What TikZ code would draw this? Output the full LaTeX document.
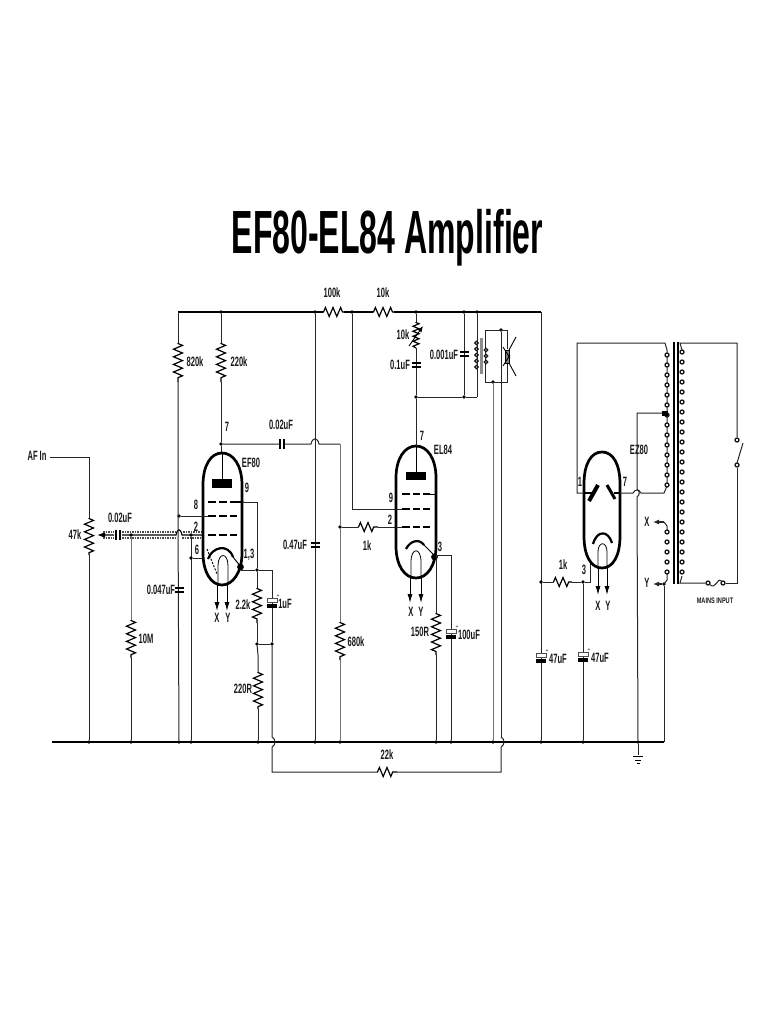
\documentclass[tikz,border=0pt]{standalone}
\usepackage{fontspec}
\setmainfont{Liberation Sans}
\usetikzlibrary{arrows.meta,decorations.pathmorphing,calc}
\tikzset{
  wire/.style={line width=1pt,black!85},
  thinwire/.style={line width=0.9pt,black!55},
  rail/.style={line width=2.5pt,black},
  res/.style={line width=1.2pt,black,decorate,decoration={zigzag,amplitude=4.5pt,segment length=7.6pt,pre length=0.5pt,post length=0.5pt}},
  glass/.style={line width=2.7pt,black},
  dot/.style={circle,fill=black,inner sep=0pt,minimum size=3.8pt},
  lab/.style={font=\bfseries\fontsize{13.5}{13.5}\selectfont,xscale=.56,inner sep=0pt,text=black!90},
  pin/.style={arrows={-Latex[length=9pt,width=5pt]},line width=1pt,black},
  coilring/.style={draw=black!90,fill=white,line width=1.3pt,circle,inner sep=0pt,minimum size=4pt},
  capv/.pic={\draw[line width=2.2pt] (-4.5,-2)--(4.5,-2) (-4.5,2)--(4.5,2);},
  caph/.pic={\draw[line width=2.2pt] (-2,-5)--(-2,5) (2,-5)--(2,5);},
  ecap/.pic={\draw[fill=white,line width=.8pt,draw=black!70] (-5,-4.5) rectangle (5,-1);
             \fill (-5,.5) rectangle (5,4.5);
             \node[font=\fontsize{5}{5}\selectfont,inner sep=0pt] at (6,-7) {+};},
}
\begin{document}
\begin{tikzpicture}[x=1pt,y=-1pt]
\useasboundingbox[fill=white] (0,0) rectangle (768,1024);

\node[font=\bfseries\fontsize{61}{61}\selectfont,xscale=.525,inner sep=0pt] (title) at (387.5,238) {EF80-EL84 Amplifier};

% ---------- rails
\node[dot] (tA) at (221,312) {};
\node[dot] (tB) at (315,312) {};
\node[dot] (tC) at (352,312) {};
\node[dot] (tD) at (416,312) {};
\node[dot] (tE) at (464,312) {};
\node[dot] (tF) at (477,312) {};
\coordinate (tL) at (178,312);
\coordinate (tR) at (541,312);
\coordinate (r1a) at (323,312); \coordinate (r1b) at (344,312);
\coordinate (r2a) at (373,312); \coordinate (r2b) at (394,312);
\draw[rail] (tL)--(r1a) (r1b)--(r2a) (r2b)--(tR);
\draw[res] (r1a)--(r1b);
\draw[res] (r2a)--(r2b);
\node[lab] (l100k) at (332,293) {100k};
\node[lab] (l10k) at (383,293) {10k};

\coordinate (bL) at (52,742);
\coordinate (bR) at (664,742);
\draw[rail] (bL)--(bR);
\foreach \n/\x in {b1/89,b2/131,b3/179,b4/191,b5/258,b6/315,b7/340,b8/436,b9/451,b10/493,b11/541,b12/583,b13/638}
  \node[dot] (\n) at (\x,742) {};

% ---------- input
\node[lab] (afin) at (37,456) {AF In};
\coordinate (af1) at (50,457);
\coordinate (af2) at (89,457);
\coordinate (p1a) at (89,518);
\coordinate (p1b) at (89,555);
\draw[wire] (af1)--(af2)--(p1a);
\draw[res] (p1a)--(p1b);
\draw[wire] (p1b)--(b1);
\node[lab] (l47k) at (75,535) {47k};

% shielded wire
\coordinate (sh0) at (97,535);
\coordinate (sh1) at (176,535);
\coordinate (sh2) at (182,535);
\node[dot] (sh3) at (131,535) {};
\node[dot] (sh4) at (191,535) {};
\coordinate (g3) at (203,535);
\draw[arrows={-Latex[length=8pt,width=6pt]},line width=1.2pt] (105,535)--(sh0);
\draw[line width=1.1pt,black] (105,535)--(114,535) (122,535)--(sh1) .. controls (177.5,528) and (180.5,528) .. (sh2)--(g3);
\draw[line width=1.1pt,black!70,dash pattern=on 1.5pt off 1pt] (103,532)--(114,532) (122,532)--(175,532) (183,532)--(203,532) (103,538)--(114,538) (122,538)--(176,538) (182,538)--(203,538);
\pic at (118,535) {caph};
\node[lab] (l002a) at (120,518) {0.02uF};
\coordinate (r10a) at (131,620); \coordinate (r10b) at (131,658);
\draw[thinwire] (sh3)--(r10a);
\draw[res] (r10a)--(r10b);
\draw[wire] (r10b)--(b2);
\node[lab] (l10m) at (146,639) {10M};

% ---------- x=178 line
\coordinate (r820a) at (178,343); \coordinate (r820b) at (178,382);
\draw[wire] (tL)--(r820a); \draw[res] (r820a)--(r820b);
\node[dot] (g1j) at (179,516) {};
\draw[wire] (r820b)--(178,516)--(b3);
\node[lab] (l820) at (195,362) {820k};
\pic at (179,590) {capv};
\node[lab] (l047) at (161,590) {0.047uF};
\draw[wire] (sh4)--(b4);
\node[dot] (k6) at (191,558) {};
\draw[wire] (k6)--(203,558);
\node[lab] (lp6) at (197,550) {6};

% 220k
\coordinate (r220a) at (221,343); \coordinate (r220b) at (221,382);
\draw[wire] (tA)--(r220a); \draw[res] (r220a)--(r220b);
\node[lab] (l220) at (239,362) {220k};
\node[dot] (a1) at (221,444) {};
\draw[wire] (r220b)--(a1)--(221,453);
\node[lab] (lp7a) at (227,427) {7};

% EF80 tube
\draw[glass] (203,485) .. controls (203,465) and (211,453) .. (222,453) .. controls (233,453) and (242,465) .. (242,485) -- (242,553) .. controls (242,572) and (233,585) .. (222,585) .. controls (211,585) and (203,572) .. (203,553) -- cycle;
\draw[line width=1pt] (222,453)--(222,480);
\fill (212,479) rectangle (232,488);
\foreach \y in {502,516,535}
  \foreach \a/\b in {208/216,219/227,230/237}
    \draw[line width=2.2pt] (\a,\y)--(\b,\y);
\draw[wire] (g1j)--(208,516);
\draw[line width=1.1pt] (237,502)--(242,502);
\node[dot] (g2j) at (242,502) {};
\coordinate (g2r) at (257,502);
\node[dot] (kj) at (257,570) {};
\coordinate (kr) at (272,570);
\draw[wire] (g2j)--(g2r)--(kj);
\draw[line width=2.2pt] (208,559) .. controls (212,547) and (228,543) .. (233,557);
\draw[line width=1pt] (233,557)--(241,567);
\fill (240.5,567) circle (3.4);
\draw[line width=1pt,dash pattern=on 2pt off 1.5pt] (207,549)--(217,574);
\draw[line width=.8pt] (218,585)--(218,566) .. controls (218,552) and (228,552) .. (228,566)--(228,585);
\draw[pin] (217,585)--(217,611);
\draw[pin] (227,585)--(227,611);
\node[lab] (lxa) at (217,618) {X};
\node[lab] (lya) at (228,618) {Y};
\node[lab] (lef) at (251,463) {EF80};
\node[lab] (lp9a) at (247,488) {9};
\node[lab] (lp8) at (196,505) {8};
\node[lab] (lp2a) at (196,527) {2};
\node[lab] (lp13) at (249,555) {1,3};
\draw[wire] (241,570)--(kj)--(kr);

% 0.02uF coupling
\coordinate (cp1) at (311,444); \coordinate (cp2) at (319,444); \coordinate (cp3) at (340,444);
\draw[wire] (a1)--(279,444) (285,444)--(cp1) .. controls (312.5,437) and (317.5,437) .. (cp2)--(cp3);
\pic at (282,444) {caph};
\node[lab] (l002b) at (281,425) {0.02uF};

% cathode network
\coordinate (r22a) at (257,588); \coordinate (r22b) at (257,623);
\node[dot] (m1) at (257,644) {};
\node[dot] (m2) at (272,644) {};
\coordinate (r220ra) at (258,672); \coordinate (r220rb) at (258,709);
\draw[wire] (kj)--(r22a); \draw[res] (r22a)--(r22b); \draw[wire] (r22b)--(m1);
\draw[wire] (m1)--(m2);
\draw[wire] (m1)--(258,655)--(r220ra); \draw[res] (r220ra)--(r220rb); \draw[wire] (r220rb)--(b5);
\node[lab] (l22k) at (243,605) {2.2k};
\node[lab] (l220r) at (243,689) {220R};
\draw[wire] (kr)--(m2);
\pic at (272,603) {ecap};
\node[lab] (l1u) at (285,604) {1uF};

% feedback
\coordinate (fb1) at (272,737); \coordinate (fb2) at (272,747); \coordinate (fb3) at (272,772);
\coordinate (fb4) at (501,772); \coordinate (fb5) at (501,747); \coordinate (fb6) at (501,737);
\coordinate (r22ka) at (377,772); \coordinate (r22kb) at (397,772);
\draw[wire] (m2)--(fb1) .. controls (276,739) and (276,745) .. (fb2)--(fb3)--(r22ka);
\draw[res] (r22ka)--(r22kb);
\draw[wire] (r22kb)--(fb4)--(fb5) .. controls (505,745) and (505,739) .. (fb6);
\node[lab] (l22kb) at (387,755) {22k};

% x=315
\draw[wire] (tB)--(b6);
\pic at (315,545) {capv};
\node[lab] (l047b) at (295,545) {0.47uF};

% 680k
\coordinate (r680a) at (340,622); \coordinate (r680b) at (340,660);
\node[dot] (g1b) at (340,527) {};
\draw[thinwire] (cp3)--(g1b)--(r680a);
\draw[res] (r680a)--(r680b);
\draw[thinwire] (r680b)--(b7);
\node[lab] (l680) at (356,642) {680k};

% EL84 grid
\coordinate (r1ka) at (358,527); \coordinate (r1kb) at (378,527);
\draw[wire] (g1b)--(r1ka); \draw[res] (r1ka)--(r1kb); \draw[wire] (r1kb)--(396,527);
\node[lab] (l1k) at (367,546) {1k};
\draw[wire] (tC)--(352,509)--(396,509);
\node[lab] (lp9b) at (391,498) {9};
\node[lab] (lp2b) at (390,520) {2};

% EL84 tube
\draw[glass] (396,478) .. controls (396,458) and (405,446) .. (416,446) .. controls (427,446) and (436,458) .. (436,478) -- (436,546) .. controls (436,566) and (427,578) .. (416,578) .. controls (405,578) and (396,566) .. (396,546) -- cycle;
\draw[line width=1pt] (416,446)--(416,472);
\fill (406,472) rectangle (426,480);
\foreach \y in {494,509,527}
  \foreach \a/\b in {402/410,413/420,423/430}
    \draw[line width=2.2pt] (\a,\y)--(\b,\y);
\draw[line width=1pt] (430,494)--(436,494);
\draw[wire] (396,527)--(402,527) (396,509)--(402,509);
\draw[line width=2.2pt] (406,549) .. controls (410,541) and (419,538) .. (424,545);
\draw[line width=1pt] (424,545)--(435,556);
\fill (434.5,557) circle (3.4);
\draw[line width=.8pt] (411,578)--(411,562) .. controls (411,547) and (421,547) .. (421,562)--(421,578);
\draw[pin] (410,578)--(410,603);
\draw[pin] (421,578)--(421,603);
\node[lab] (lxb) at (411,612) {X};
\node[lab] (lyb) at (421,612) {Y};
\node[lab] (lel) at (443,450) {EL84};
\node[lab] (lp7b) at (422,436) {7};
\node[lab] (lp3) at (440,547) {3};
\coordinate (k2a) at (436,555);
\coordinate (k2b) at (451,555);
\coordinate (r150a) at (436,613); \coordinate (r150b) at (436,655);
\draw[wire] (k2a)--(k2b)--(b9);
\draw[wire] (k2a)--(r150a); \draw[res] (r150a)--(r150b); \draw[wire] (r150b)--(b8);
\node[lab] (l150) at (420,632) {150R};
\pic at (451,634) {ecap};
\node[lab] (l100u) at (469,635) {100uF};

% plate supply
\coordinate (vra) at (416,322); \coordinate (vrb) at (416,348);
\node[dot] (pj1) at (416,397) {};
\node[dot] (pj2) at (464,397) {};
\coordinate (pj3) at (477,397);
\draw[wire] (tD)--(vra);
\draw[res,decoration={amplitude=3pt,segment length=5pt}] (vra)--(vrb);
\draw[arrows={-Latex[length=6pt,width=5pt]},line width=.9pt] (409,346)--(423,326);
\draw[wire] (vrb)--(pj1)--(416,446);
\pic at (416,365) {capv};
\node[lab] (l10kv) at (403,335) {10k};
\node[lab] (l01) at (400,365) {0.1uF};
\draw[wire] (pj1)--(pj2)--(pj3);
\draw[wire] (tE)--(pj2);
\pic at (464,354) {capv};
\node[lab] (l001) at (444,355) {0.001uF};
\draw[wire] (tF)--(pj3);

% output transformer
\fill[black!45] (480,338) rectangle (482.5,374);
\foreach \y in {343,349,355,361,367}
  \node[coilring,minimum size=3.6pt] at (476.5,\y) {};
\node[dot] (sp1) at (501,330) {};
\node[dot] (sp2) at (493,382) {};
\coordinate (s1) at (485,330); \coordinate (s2) at (507,330);
\coordinate (s3) at (507,382); \coordinate (s4) at (485,382);
\draw[wire] (s1)--(s2)--(507,349) (507,363)--(s3)--(s4)--(s1);
\foreach \y in {350,356,362}
  \node[coilring,minimum size=3.6pt] at (486,\y) {};
\draw[line width=.9pt,fill=black!50] (505,350) rectangle (509,363);
\draw[line width=.9pt] (509,350)--(516,337) (509,363)--(516,376) (503,347)--(510,358) (510,355)--(503,366);
\draw[thinwire] (sp2)--(b10);
\draw[wire] (sp1)--(fb6);

% ---------- power supply
\draw[wire] (tR)--(b11);
\node[dot] (ps1) at (541,582) {};
\coordinate (r1kpa) at (553,582); \coordinate (r1kpb) at (572,582);
\node[dot] (ps2) at (583,582) {};
\coordinate (ps3) at (590,582); \coordinate (ps4) at (590,562);
\draw[wire] (ps1)--(r1kpa); \draw[res] (r1kpa)--(r1kpb); \draw[wire] (r1kpb)--(ps2)--(ps3)--(ps4);
\draw[wire] (ps2)--(b12);
\pic at (541,658) {ecap};
\pic at (583,657) {ecap};
\node[lab] (l1kp) at (563,565) {1k};
\node[lab] (lp3z) at (584,570) {3};
\node[lab] (l47a) at (558,659) {47uF};
\node[lab] (l47b) at (600,658) {47uF};

% EZ80 tube
\draw[glass] (584,484) .. controls (584,464) and (591,452) .. (602,452) .. controls (613,452) and (620,464) .. (620,484) -- (620,536) .. controls (620,556) and (613,568) .. (602,568) .. controls (591,568) and (584,556) .. (584,536) -- cycle;
\draw[line width=4pt] (589,501)--(598,485);
\draw[line width=3pt] (607,485)--(615,499);
\draw[line width=2.2pt] (593,544) .. controls (597,530) and (608,530) .. (612,543);
\draw[line width=.8pt] (598,568)--(598,552) .. controls (598,541) and (607,541) .. (607,552)--(607,568);
\draw[pin] (598,568)--(598,595);
\draw[pin] (607,568)--(607,595);
\node[lab] (lxz) at (598,606) {X};
\node[lab] (lyz) at (608,606) {Y};
\node[lab] (lez) at (639,450) {EZ80};
\node[lab] (lp1) at (580,482) {1};
\node[lab] (lp7z) at (625,482) {7};

% HV secondary
\coordinate (hv1) at (577,493); \coordinate (hv2) at (577,343); \coordinate (hv3) at (665,343);
\coordinate (hv4) at (667,350);
\coordinate (hv5) at (667,486); \coordinate (hv6) at (664,493);
\coordinate (hp1) at (641,493); \coordinate (hp2) at (633,493);
\draw[wire] (590,493)--(hv1)--(hv2)--(hv3)--(hv4);
\draw[wire] (hv4)--(hv5)--(hv6)--(hp1) .. controls (639,489) and (635,489) .. (hp2)--(614,493);
\draw[line width=1.8pt] (584,493)--(592,493) (614,493)--(620,493);
\foreach \y in {355,365,...,485}
  \node[coilring] at (667,\y) {};
\coordinate (ct1) at (637,413);
\coordinate (ct2) at (664,413);
\coordinate (ct3) at (637,489); \coordinate (ct4) at (637,497);
\draw[wire] (ct2)--(ct1)--(ct3) .. controls (640,491) and (640,495) .. (ct4)--(b13);
\fill (662,410.5) rectangle (668,415.5);

% core
\draw[line width=1.2pt] (674,342)--(674,584) (678,342)--(678,584);

% heater secondary
\coordinate (xw1) at (667,526); \coordinate (xw2) at (653,522);
\coordinate (yw1) at (667,580); \coordinate (yw2) at (653,584);
\node[dot] (yj) at (664,584) {};
\draw[wire] (667,530)--(xw1)--(664,522);
\draw[wire,arrows={-Latex[length=6pt,width=5pt]},line width=1.1pt] (664,522)--(xw2);
\draw[wire] (667,572)--(yw1)--(664,584);
\draw[wire,arrows={-Latex[length=6pt,width=5pt]},line width=1.1pt] (yj)--(yw2);
\foreach \y in {532,542,552,562,572}
  \node[coilring] at (667,\y) {};
\draw[wire] (yj)--(bR);
\node[lab] (lx) at (647,522) {X};
\node[lab] (ly) at (647,583) {Y};

% primary
\coordinate (pr1) at (680,343); \coordinate (pr2) at (737,343);
\node[coilring] (swa) at (737,440) {};
\node[coilring] (swb) at (737,465) {};
\coordinate (pr3) at (737,583);
\node[coilring] (fu1) at (723,583) {};
\node[coilring] (fu2) at (708,583) {};
\coordinate (pr4) at (680,583);
\draw[wire] (682,350)--(pr1)--(pr2)--(swa);
\draw[wire] (737,463)--(743,443);
\draw[wire] (swb)--(pr3)--(fu1);
\draw[wire] (fu1) .. controls (718,576) and (716,590) .. (fu2);
\draw[wire] (fu2)--(pr4)--(682,576);
\foreach \y in {352,362,...,572}
  \node[coilring] at (682,\y) {};
\node[lab,font=\bfseries\fontsize{8}{8}\selectfont,xscale=1.25] (lmains) at (715,601) {MAINS INPUT};

% ground
\coordinate (gn) at (638,755);
\draw[wire] (b13)--(gn);
\draw[line width=1pt] (633,756)--(643,756) (635,760)--(641,760) (636.5,763.5)--(639.5,763.5);
\end{tikzpicture}
\end{document}
